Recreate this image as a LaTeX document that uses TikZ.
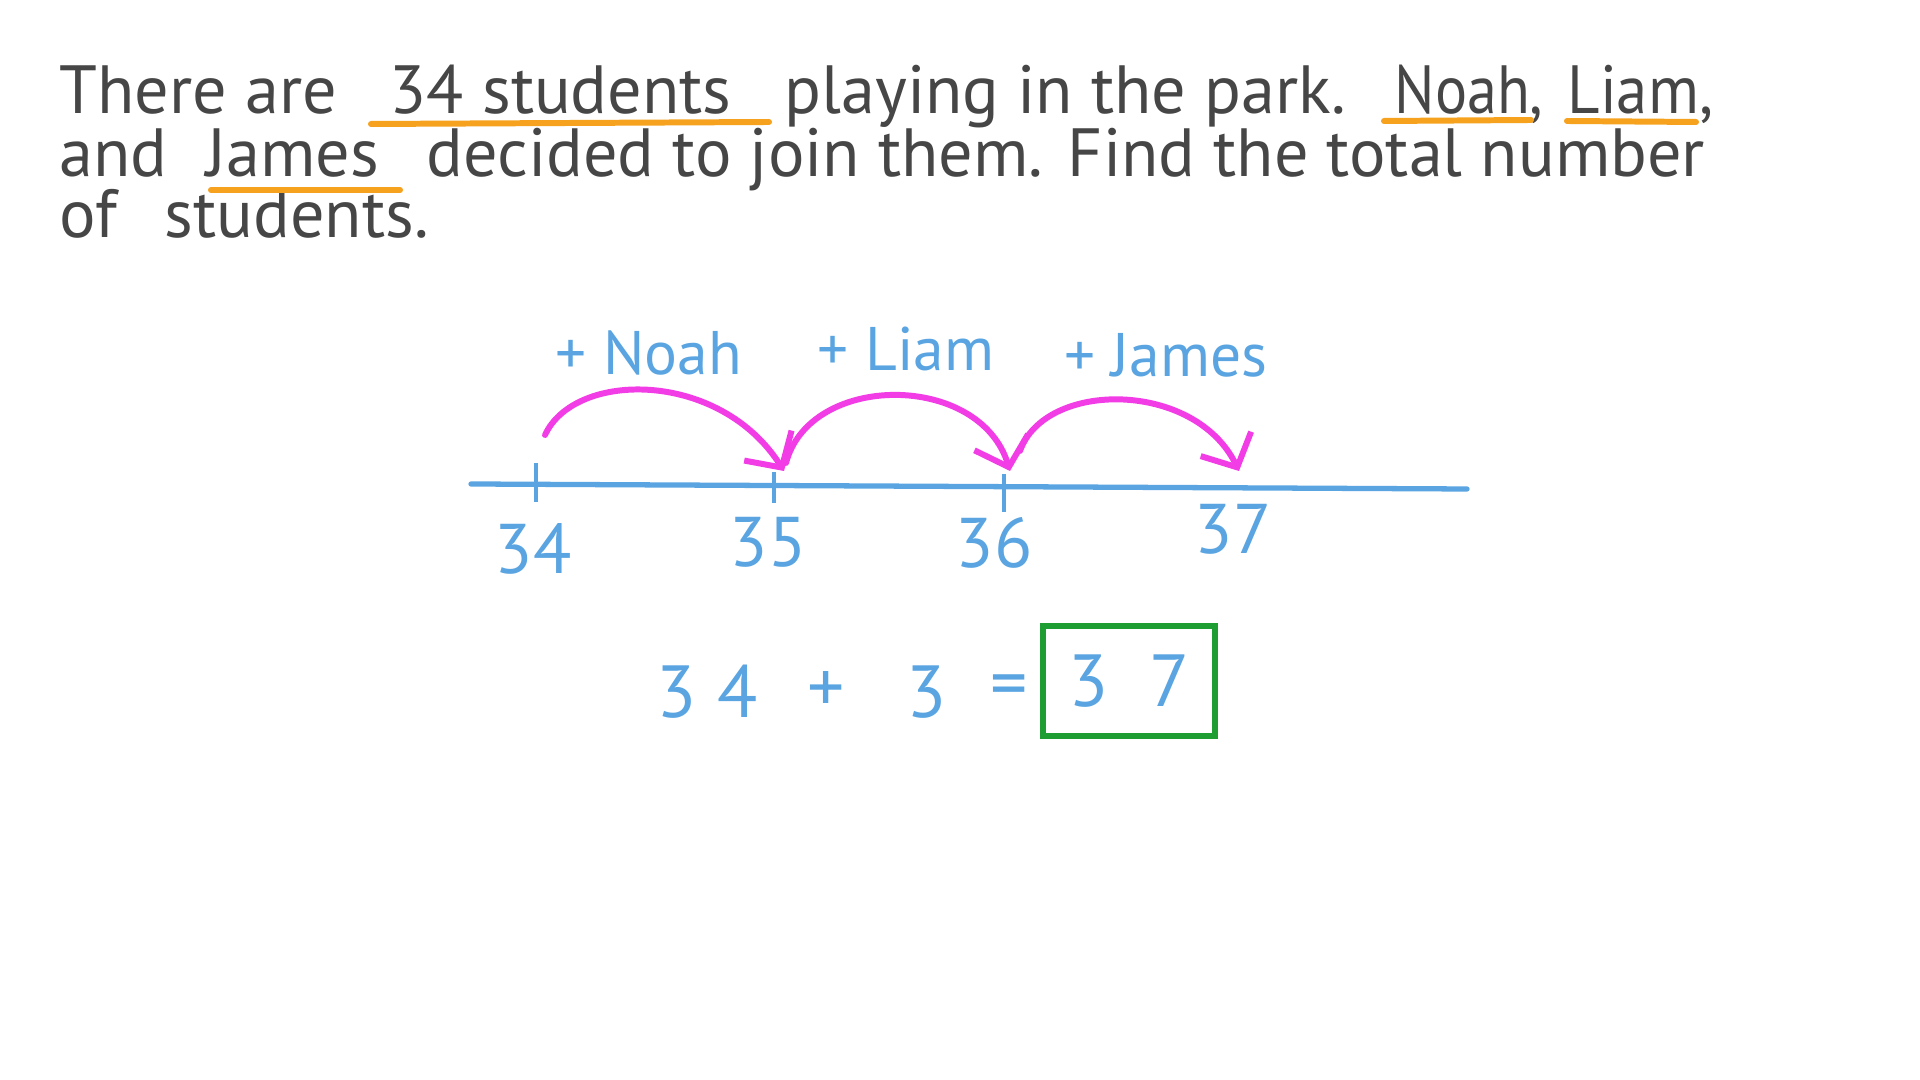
\documentclass[tikz,border=0pt]{standalone}
\usepackage{fontspec}
\setmainfont{PT Sans}
\usetikzlibrary{arrows.meta}
\definecolor{ink}{HTML}{464646}
\definecolor{nblue}{HTML}{5AA5E1}
\definecolor{mag}{HTML}{F23DE6}
\definecolor{org}{HTML}{F6A21E}
\definecolor{grn}{HTML}{1E9E32}
\tikzset{
  para/.style={anchor=base west, inner sep=0pt, text=ink, text height=1.45ex, text depth=0.25ex, font=\fontsize{19.4}{23}\selectfont},
  uline/.style={draw=org, line width=1.7pt, line cap=round},
  numline/.style={draw=nblue, line width=1.5pt, line cap=round},
  tick/.style={draw=nblue, line width=1.3pt},
  lbl/.style={text=nblue, inner sep=0pt, font=\fontsize{20}{24}\selectfont},
  hoplbl/.style={text=nblue, inner sep=0pt, font=\fontsize{17.5}{21}\selectfont},
  hop/.style={draw=mag, line width=1.7pt, line cap=round, -{Straight Barb[length=2.6mm,width=5.6mm,line width=1.7pt]}},
  eq/.style={text=nblue, inner sep=0pt, font=\fontsize{21}{24}\selectfont},
  answer/.style={draw=grn, line width=1.5pt, text=nblue, minimum height=1.1cm, font=\fontsize{21}{24}\selectfont}
}
\begin{document}
\begin{tikzpicture}[x=0.01cm,y=-0.01cm]
\useasboundingbox[fill=white] (0,0) rectangle (1920,1080);
% problem text
\node[para] (w1) at (59,114) {There are};
\node[para] (w2) at (389,114) {34 students};
\node[para] (w3) at (784,114) {playing in the park.};
\node[para] (w4) at (1394,114) {\scalebox{0.88}[1]{Noah,}};
\node[para] (w5) at (1567,114) {\scalebox{0.92}[1]{Liam,}};
\node[para] (w6) at (59,177) {and};
\node[para] (w7) at (206,177) {James};
\node[para] (w8) at (426,177) {decided to join them. Find the total number};
\node[para] (w9) at (59,238) {of\hspace{0.7em}students.};
\draw[uline] (371,124) -- (769,122);
\draw[uline] (1384,121) -- (1531,120);
\draw[uline] (1567,121) -- (1696,122);
\draw[uline] (211,190) -- (400,190);
% number line
\coordinate (L0) at (471,484);
\coordinate (L1) at (1467,489);
\draw[numline] (L0) -- (L1);
\draw[tick] (536,463) -- (536,502);
\draw[tick] (774,472) -- (774,503);
\draw[tick] (1004,474) -- (1004,512);
\node[lbl] (n34) at (533,549) {34};
\node[lbl] (n35) at (768,542) {35};
\node[lbl] (n36) at (994,543) {36};
\node[lbl] (n37) at (1233,529) {37};
\node[hoplbl] (h1) at (649,353) {+ Noah};
\node[hoplbl] (h2) at (906,349) {+ Liam};
\node[hoplbl] (h3) at (1166,355) {+ James};
\coordinate (s1) at (545,435);
\coordinate (e1) at (784,471);
\coordinate (s2) at (786,463);
\coordinate (e2) at (1010,471);
\coordinate (s3) at (1020,451);
\coordinate (e3) at (1239,471);
\draw[hop] (s1) .. controls (575,370) and (720,370) .. (e1);
\draw[hop] (s2) .. controls (810,372) and (980,372) .. (e2);
\draw[hop] (s3) .. controls (1045,380) and (1195,380) .. (e3);
% equation
\node[eq] (a) at (707,692) {3\;4};
\node[eq] (p) at (826,692) {+};
\node[eq] (b) at (927,692) {3};
\node[eq] (q) at (1009,692) {=};
\node[answer, minimum width=1.72cm] (r) at (1129,681) {3\;\;7};
\end{tikzpicture}
\end{document}
